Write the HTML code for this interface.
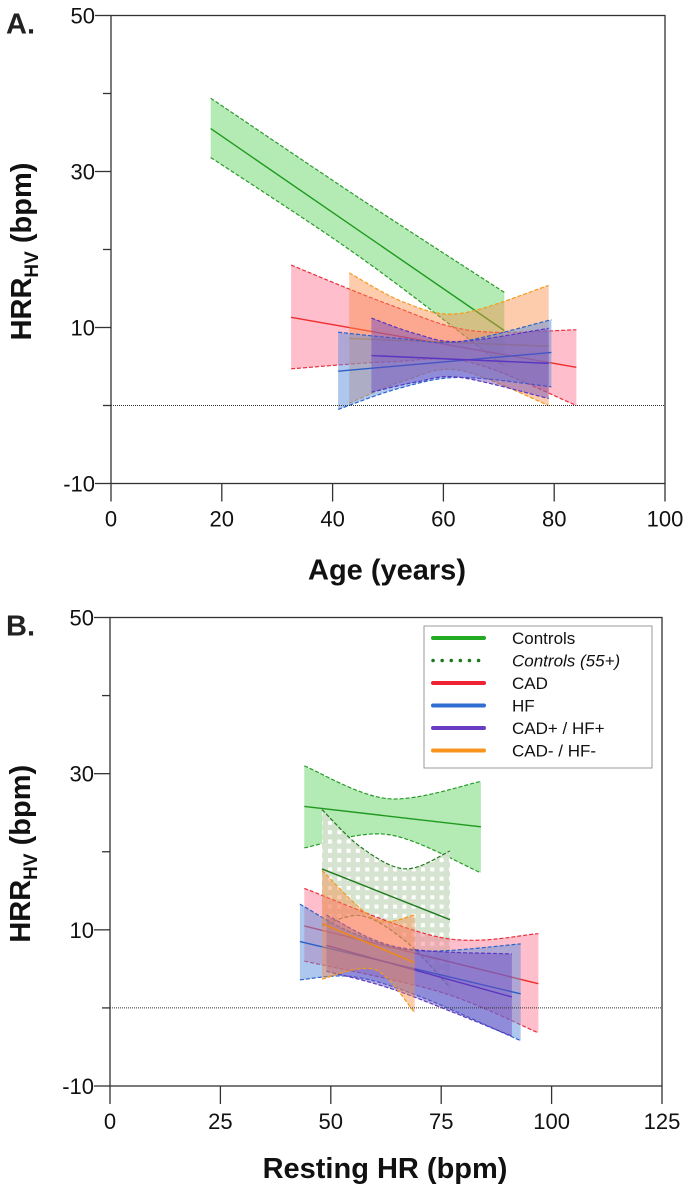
<!DOCTYPE html>
<html><head><meta charset="utf-8"><style>
html,body{margin:0;padding:0;background:#fff;}
svg{display:block;font-family:"Liberation Sans",Arial,sans-serif;}
</style></head><body>
<svg id="chart" width="685" height="1187" viewBox="0 0 685 1187" xmlns="http://www.w3.org/2000/svg">
<defs>
<pattern id="dots" width="9.3" height="9.3" patternUnits="userSpaceOnUse">
<rect width="9.3" height="9.3" fill="#d4e2cd"/>
<rect x="2.5" y="2.5" width="4" height="4" fill="#ffffff"/>
</pattern>
</defs>
<g id="panelA"></g>
<g id="panelB"></g>
</svg>
<script>
// ---------- DATA ----------
const yTicks = [50, 30, 10, -10];
const yMinor = [40, 20, 0];
const xTicksA = [0, 20, 40, 60, 80, 100];
const xTicksB = [0, 25, 50, 75, 100, 125];

const aControlsX = [18, 45, 71];
const aControlsUp = [39.4, 26.5, 14.5];
const aControlsLo = [31.8, 19.0, 5.0];
const aControlsMid = [35.5, 9.6];

const aCadX = [32.5, 50, 65, 84];
const aCadUp = [18.0, 13.0, 9.6, 9.7];
const aCadLo = [4.7, 5.6, 5.5, 0.0];
const aCadMid = [11.3, 4.9];

const aNegX = [43, 53, 63, 79];
const aNegUp = [17.0, 13.2, 11.8, 15.4];
const aNegLo = [0.3, 3.2, 4.5, 0.0];
const aNegMid = [8.6, 7.6];

const aHfX = [41, 52, 63, 79.5];
const aHfUp = [9.4, 8.6, 8.2, 11.0];
const aHfLo = [-0.5, 2.2, 3.6, 2.4];
const aHfMid = [4.4, 6.8];

const aPosX = [47, 55, 63, 79];
const aPosUp = [11.2, 9.2, 8.2, 9.9];
const aPosLo = [1.7, 3.0, 3.6, 0.9];
const aPosMid = [6.4, 5.4];

const bControlsX = [44, 63, 84];
const bControlsUp = [31.0, 26.8, 29.0];
const bControlsLo = [20.5, 22.2, 17.3];
const bControlsMid = [25.8, 23.2];

const bOldX = [48, 57, 67, 77];
const bOldUp = [25.4, 20.5, 17.8, 20.1];
const bOldLo = [10.5, 11.8, 8.5, 2.6];
const bOldMid = [17.8, 11.3];

const bCadX = [44, 75, 97];
const bCadUp = [15.3, 9.0, 9.5];
const bCadLo = [6.0, 2.0, -3.2];
const bCadMid = [10.5, 3.1];

const bHfX = [43, 55, 70, 93];
const bHfUp = [13.3, 9.6, 7.3, 8.2];
const bHfLo = [3.6, 4.0, 1.5, -4.2];
const bHfMid = [8.5, 1.8];

const bPosX = [49, 65, 91];
const bPosUp = [11.9, 7.8, 6.9];
const bPosLo = [4.7, 2.2, -3.6];
const bPosMid = [8.0, 1.4];

const bNegX = [48, 60, 69];
const bNegUp = [17.6, 11.4, 11.9];
const bNegLo = [3.7, 4.9, -0.6];
const bNegMid = [10.8, 5.8];

const legendLabels = ["Controls", "Controls (55+)", "CAD", "HF", "CAD+ / HF+", "CAD- / HF-"];

// ---------- DRAW ----------
const NS = "http://www.w3.org/2000/svg";
function mk(parent, tag, attrs, text) {
  const e = document.createElementNS(NS, tag);
  for (const k in attrs) e.setAttribute(k, attrs[k]);
  if (text !== undefined) e.textContent = text;
  parent.appendChild(e);
  return e;
}
function smoothPath(pts, move) {
  let d = (move ? "M" : "L") + pts[0][0].toFixed(1) + "," + pts[0][1].toFixed(1);
  for (let i = 0; i < pts.length - 1; i++) {
    const p0 = pts[i - 1] || pts[i], p1 = pts[i], p2 = pts[i + 1], p3 = pts[i + 2] || p2;
    const c1 = [p1[0] + (p2[0] - p0[0]) / 6, p1[1] + (p2[1] - p0[1]) / 6];
    const c2 = [p2[0] - (p3[0] - p1[0]) / 6, p2[1] - (p3[1] - p1[1]) / 6];
    d += "C" + c1.map(v => v.toFixed(1)).join(",") + " " + c2.map(v => v.toFixed(1)).join(",") + " " + p2[0].toFixed(1) + "," + p2[1].toFixed(1);
  }
  return d;
}

function panel(g, cfg) {
  const X = v => cfg.x0 + (v - cfg.xmin) / (cfg.xmax - cfg.xmin) * (cfg.x1 - cfg.x0);
  const Y = v => cfg.y1 - (v - (-10)) / 60 * (cfg.y1 - cfg.y0);
  cfg.bands.forEach(b => {
    const up = b.xs.map((x, i) => [X(x), Y(b.up[i])]);
    const lo = b.xs.map((x, i) => [X(x), Y(b.lo[i])]).reverse();
    const bg = mk(g, "g", {});
    
    
    mk(bg, "path", {d: smoothPath(up, true) + smoothPath(lo, false) + "Z", fill: b.fill, "fill-opacity": b.op, stroke: "none"});
    mk(bg, "path", {d: smoothPath(up, true), fill: "none", stroke: b.dash, "stroke-width": 1.2, "stroke-dasharray": "4,2"});
    mk(bg, "path", {d: smoothPath(b.xs.map((x, i) => [X(x), Y(b.lo[i])]), true), fill: "none", stroke: b.dash, "stroke-width": 1.2, "stroke-dasharray": "4,2"});
    const xe = b.xs[b.xs.length - 1];
    const ln = mk(bg, "line", {x1: X(b.xs[0]), y1: Y(b.mid[0]), x2: X(xe), y2: Y(b.mid[1]), stroke: b.line, "stroke-width": 1.4});
    
    
  });
  mk(g, "line", {x1: cfg.x0, x2: cfg.x1, y1: Y(0), y2: Y(0), stroke: "#333", "stroke-width": 1, "stroke-dasharray": "1,1"});
  mk(g, "rect", {x: cfg.x0, y: cfg.y0, width: cfg.x1 - cfg.x0, height: cfg.y1 - cfg.y0, fill: "none", stroke: "#333", "stroke-width": 1.3});
  yTicks.forEach(t => {
    mk(g, "line", {x1: cfg.x0 - 16, x2: cfg.x0, y1: Y(t), y2: Y(t), stroke: "#333", "stroke-width": 1.3});
    const tl = mk(g, "text", {x: cfg.x0 - 16, y: Y(t) + 8, "font-size": 22, "text-anchor": "end", fill: "#111"}, String(t));
    
    
  });
  yMinor.forEach(t => mk(g, "line", {x1: cfg.x0 - 8, x2: cfg.x0, y1: Y(t), y2: Y(t), stroke: "#333", "stroke-width": 1.3}));
  cfg.xticks.forEach(t => {
    mk(g, "line", {x1: X(t), x2: X(t), y1: cfg.y1, y2: cfg.y1 + 18, stroke: "#333", "stroke-width": 1.3});
    const tl = mk(g, "text", {x: X(t), y: cfg.y1 + 43, "font-size": 22, "text-anchor": "middle", fill: "#111"}, String(t));
    
    
  });
  const yt = mk(g, "text", {transform: `translate(${cfg.x0 - 80},${(cfg.y0 + cfg.y1) / 2 + 2}) rotate(-90)`, "font-size": 29, "font-weight": "bold", "text-anchor": "middle", fill: "#111"});
  
  
  mk(yt, "tspan", {}, "HRR");
  mk(yt, "tspan", {"font-size": 19, dy: 7}, "HV");
  mk(yt, "tspan", {dy: -7}, " (bpm)");
  const xt = mk(g, "text", {x: (cfg.x0 + cfg.x1) / 2 - 1, y: cfg.y1 + cfg.titleOff, "font-size": 29, "font-weight": "bold", "text-anchor": "middle", fill: "#111"}, cfg.xtitle);
  
  
  const pl = mk(g, "text", {x: 6, y: cfg.y0 + 18, "font-size": 29, "font-weight": "bold", fill: "#222"}, cfg.letter);
  
  
}

const GREEN = {fill: "#4ccd4c", op: 0.42, dash: "#2a9a2a", line: "#1f9a1f"};
const RED = {fill: "#ff6f8c", op: 0.45, dash: "#ee2d3a", line: "#ee2d2d"};
const ORANGE = {fill: "#f98e4a", op: 0.45, dash: "#f59a1b", line: "#f08a10"};
const BLUE = {fill: "#5e8fe0", op: 0.5, dash: "#2a63cc", line: "#2a5fc8"};
const PURPLE = {fill: "#6a46c0", op: 0.45, dash: "#5a35c0", line: "#5a35c0"};

panel(document.getElementById("panelA"), {
  x0: 111, x1: 665, y0: 15.5, y1: 483.5, xmin: 0, xmax: 100, xticks: xTicksA, xtitle: "Age (years)", letter: "A.", titleOff: 96,
  bands: [
    Object.assign({name: "controls", xs: aControlsX, up: aControlsUp, lo: aControlsLo, mid: aControlsMid}, GREEN),
    Object.assign({name: "cad", xs: aCadX, up: aCadUp, lo: aCadLo, mid: aCadMid}, RED),
    Object.assign({name: "cad-neg-hf-neg", xs: aNegX, up: aNegUp, lo: aNegLo, mid: aNegMid}, ORANGE),
    Object.assign({name: "hf", xs: aHfX, up: aHfUp, lo: aHfLo, mid: aHfMid}, BLUE),
    Object.assign({name: "cad-pos-hf-pos", xs: aPosX, up: aPosUp, lo: aPosLo, mid: aPosMid}, PURPLE)
  ]
});
panel(document.getElementById("panelB"), {
  x0: 110, x1: 662, y0: 617.5, y1: 1086, xmin: 0, xmax: 125, xticks: xTicksB, xtitle: "Resting HR (bpm)", letter: "B.", titleOff: 92,
  bands: [
    Object.assign({name: "controls", xs: bControlsX, up: bControlsUp, lo: bControlsLo, mid: bControlsMid}, GREEN),
    {name: "controls-55-plus", xs: bOldX, up: bOldUp, lo: bOldLo, mid: bOldMid, fill: "url(#dots)", op: 0.95, dash: "#1e7a1e", line: "#1e7a1e"},
    Object.assign({name: "cad", xs: bCadX, up: bCadUp, lo: bCadLo, mid: bCadMid}, RED),
    Object.assign({name: "hf", xs: bHfX, up: bHfUp, lo: bHfLo, mid: bHfMid}, BLUE),
    Object.assign({name: "cad-pos-hf-pos", xs: bPosX, up: bPosUp, lo: bPosLo, mid: bPosMid}, PURPLE),
    Object.assign({name: "cad-neg-hf-neg", xs: bNegX, up: bNegUp, lo: bNegLo, mid: bNegMid}, ORANGE)
  ]
});

const legendColors = ["#22aa22", "#1e7a1e", "#ee2233", "#2f6fd0", "#6a3cc0", "#f7941d"];
const lg = mk(document.getElementById("panelB"), "g", {});


mk(lg, "rect", {x: 424, y: 626, width: 228, height: 142, fill: "#fff", stroke: "#999", "stroke-width": 1});
legendLabels.forEach((lab, i) => {
  const y = 638 + i * 22.5;
  const e = mk(lg, "g", {});
  
  
  if (i === 1) mk(e, "line", {x1: 433, x2: 486, y1: y, y2: y, stroke: legendColors[i], "stroke-width": 3.5, "stroke-dasharray": "0.1,9", "stroke-linecap": "round"});
  else mk(e, "line", {x1: 433, x2: 484, y1: y, y2: y, stroke: legendColors[i], "stroke-width": 4, "stroke-linecap": "round"});
  mk(e, "text", {x: 512, y: y + 6, "font-size": 17, fill: "#111", "font-style": i === 1 ? "italic" : "normal"}, lab);
});
</script>
</body></html>
